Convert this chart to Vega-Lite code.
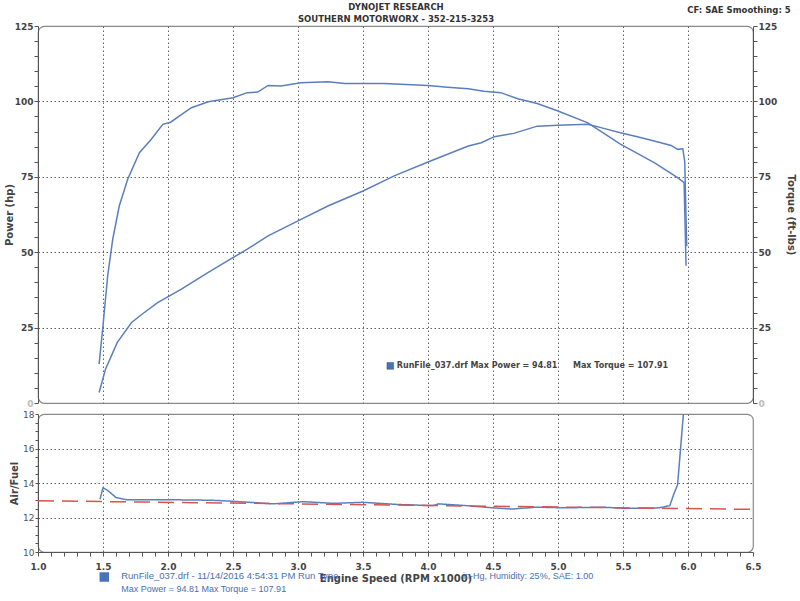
{
  "$schema": "https://vega.github.io/schema/vega-lite/v6.json",
  "padding": {"left": 3, "top": 2, "right": 3, "bottom": 5},
  "background": "white",
  "spacing": 11,
  "bounds": "flush",
  "config": {
    "view": {"stroke": "#8a8a8a", "strokeWidth": 1.2, "cornerRadius": 6},
    "font": "DejaVu Sans",
    "axis": {
      "labelFont": "DejaVu Sans", "titleFont": "DejaVu Sans",
      "labelFontWeight": "bold", "labelColor": "#444", "titleColor": "#444",
      "labelFontSize": 9, "titleFontSize": 10, "titleFontWeight": "bold",
      "domainColor": "#555", "tickColor": "#555", "gridColor": "#666", "gridDash": [1.5, 2.5],
      "labelOverlap": false, "labelFlush": false, "labelPadding": 1
    }
  },
  "datasets": {
    "power": [
      {"rpm": 1.47, "hp": 3.5}, {"rpm": 1.52, "hp": 11.3}, {"rpm": 1.61, "hp": 20.1}, {"rpm": 1.72, "hp": 26.7},
      {"rpm": 1.79, "hp": 29.1}, {"rpm": 1.92, "hp": 33.3}, {"rpm": 2.1, "hp": 37.7}, {"rpm": 2.31, "hp": 43.3},
      {"rpm": 2.48, "hp": 47.7}, {"rpm": 2.61, "hp": 51.0}, {"rpm": 2.77, "hp": 55.4}, {"rpm": 3.0, "hp": 60.4},
      {"rpm": 3.23, "hp": 65.3}, {"rpm": 3.5, "hp": 70.3}, {"rpm": 3.74, "hp": 75.3}, {"rpm": 4.0, "hp": 79.9},
      {"rpm": 4.15, "hp": 82.5}, {"rpm": 4.31, "hp": 85.2}, {"rpm": 4.41, "hp": 86.3}, {"rpm": 4.51, "hp": 88.3},
      {"rpm": 4.66, "hp": 89.4}, {"rpm": 4.84, "hp": 91.8}, {"rpm": 5.0, "hp": 92.1}, {"rpm": 5.23, "hp": 92.4},
      {"rpm": 5.33, "hp": 91.3}, {"rpm": 5.48, "hp": 89.6}, {"rpm": 5.61, "hp": 88.3}, {"rpm": 5.74, "hp": 86.9},
      {"rpm": 5.87, "hp": 85.4}, {"rpm": 5.92, "hp": 84.1}, {"rpm": 5.96, "hp": 84.3}, {"rpm": 5.975, "hp": 80.0},
      {"rpm": 5.99, "hp": 52.0}
    ],
    "torque": [
      {"rpm": 1.47, "tq": 12.9}, {"rpm": 1.5, "tq": 25.6}, {"rpm": 1.536, "tq": 42.2}, {"rpm": 1.575, "tq": 54.3},
      {"rpm": 1.625, "tq": 65.3}, {"rpm": 1.69, "tq": 74.2}, {"rpm": 1.78, "tq": 83.0}, {"rpm": 1.87, "tq": 87.4},
      {"rpm": 1.96, "tq": 92.4}, {"rpm": 2.02, "tq": 93.1}, {"rpm": 2.1, "tq": 95.5}, {"rpm": 2.18, "tq": 97.9},
      {"rpm": 2.31, "tq": 99.9}, {"rpm": 2.5, "tq": 101.2}, {"rpm": 2.61, "tq": 102.9}, {"rpm": 2.69, "tq": 103.1},
      {"rpm": 2.77, "tq": 105.3}, {"rpm": 2.87, "tq": 105.1}, {"rpm": 3.02, "tq": 106.2}, {"rpm": 3.18, "tq": 106.4},
      {"rpm": 3.23, "tq": 106.5}, {"rpm": 3.36, "tq": 105.9}, {"rpm": 3.66, "tq": 105.9}, {"rpm": 4.0, "tq": 105.3},
      {"rpm": 4.15, "tq": 104.7}, {"rpm": 4.31, "tq": 104.2}, {"rpm": 4.43, "tq": 103.4}, {"rpm": 4.56, "tq": 102.9},
      {"rpm": 4.69, "tq": 100.9}, {"rpm": 4.84, "tq": 99.3}, {"rpm": 5.0, "tq": 96.8}, {"rpm": 5.23, "tq": 92.9},
      {"rpm": 5.48, "tq": 85.8}, {"rpm": 5.74, "tq": 79.7}, {"rpm": 5.92, "tq": 74.7}, {"rpm": 5.97, "tq": 73.1},
      {"rpm": 5.985, "tq": 45.5}
    ],
    "afr": [
      {"series": "measured", "rpm": 1.477, "afr": 13.06}, {"series": "measured", "rpm": 1.5, "afr": 13.72},
      {"series": "measured", "rpm": 1.536, "afr": 13.57}, {"series": "measured", "rpm": 1.6, "afr": 13.16},
      {"series": "measured", "rpm": 1.68, "afr": 13.03}, {"series": "measured", "rpm": 2.01, "afr": 13.03},
      {"series": "measured", "rpm": 2.34, "afr": 13.0}, {"series": "measured", "rpm": 2.5, "afr": 12.94},
      {"series": "measured", "rpm": 2.81, "afr": 12.79}, {"series": "measured", "rpm": 3.04, "afr": 12.92},
      {"series": "measured", "rpm": 3.27, "afr": 12.82}, {"series": "measured", "rpm": 3.5, "afr": 12.88},
      {"series": "measured", "rpm": 3.78, "afr": 12.75}, {"series": "measured", "rpm": 4.04, "afr": 12.69},
      {"series": "measured", "rpm": 4.08, "afr": 12.79}, {"series": "measured", "rpm": 4.29, "afr": 12.69},
      {"series": "measured", "rpm": 4.5, "afr": 12.56}, {"series": "measured", "rpm": 4.65, "afr": 12.49},
      {"series": "measured", "rpm": 4.83, "afr": 12.6}, {"series": "measured", "rpm": 5.06, "afr": 12.56},
      {"series": "measured", "rpm": 5.34, "afr": 12.6}, {"series": "measured", "rpm": 5.52, "afr": 12.53},
      {"series": "measured", "rpm": 5.78, "afr": 12.56}, {"series": "measured", "rpm": 5.86, "afr": 12.69},
      {"series": "measured", "rpm": 5.89, "afr": 13.34}, {"series": "measured", "rpm": 5.92, "afr": 13.9},
      {"series": "measured", "rpm": 5.97, "afr": 18.5},
      {"series": "target", "rpm": 1.0, "afr": 12.97}, {"series": "target", "rpm": 6.5, "afr": 12.47}
    ]
  },
  "vconcat": [
    {
      "width": 715,
      "height": 377,
      "layer": [
        {
          "layer": [
            {
              "data": {"name": "power"},
              "mark": {"type": "line", "color": "#5b7fbd", "strokeWidth": 1.5},
              "encoding": {
                "x": {"field": "rpm", "type": "quantitative", "scale": {"domain": [1, 6.5], "nice": false, "zero": false},
                  "axis": {"values": [1.5, 2, 2.5, 3, 3.5, 4, 4.5, 5, 5.5, 6], "labels": false, "ticks": false, "domain": false, "title": null, "grid": true, "labelOverlap": false}},
                "y": {"field": "hp", "type": "quantitative", "scale": {"domain": [0, 125], "nice": false},
                  "axis": {"title": "Power (hp)", "titlePadding": 0, "labelOverlap": false,
                    "values": [0, 5, 10, 15, 20, 25, 30, 35, 40, 45, 50, 55, 60, 65, 70, 75, 80, 85, 90, 95, 100, 105, 110, 115, 120, 125],
                    "labelExpr": "datum.value % 25 === 0 ? datum.label : ''",
                    "labelColor": {"condition": {"test": "datum.value === 0", "value": "#bbb"}, "value": "#444"},
                    "tickSize": 4, "grid": true,
                    "gridOpacity": {"condition": {"test": "datum.value % 25 === 0 && datum.value > 0 && datum.value < 125", "value": 1}, "value": 0}}}
              }
            },
            {
              "data": {"name": "torque"},
              "mark": {"type": "line", "color": "#5b7fbd", "strokeWidth": 1.5},
              "encoding": {
                "x": {"field": "rpm", "type": "quantitative"},
                "y": {"field": "tq", "type": "quantitative", "scale": {"domain": [0, 125], "nice": false},
                  "axis": {"orient": "right", "title": "Torque (ft-lbs)", "titlePadding": 9, "labelOverlap": false,
                    "values": [0, 5, 10, 15, 20, 25, 30, 35, 40, 45, 50, 55, 60, 65, 70, 75, 80, 85, 90, 95, 100, 105, 110, 115, 120, 125],
                    "labelExpr": "datum.value % 25 === 0 ? datum.label : ''",
                    "labelColor": {"condition": {"test": "datum.value === 0", "value": "#bbb"}, "value": "#444"},
                    "tickSize": 4, "grid": false}}
              }
            }
          ],
          "resolve": {"scale": {"y": "independent"}}
        },
        {
          "layer": [
            {
              "data": {"values": [{}]},
              "mark": {"type": "text", "text": "DYNOJET RESEARCH", "fontWeight": "bold", "fontSize": 8.5, "color": "#333", "align": "center", "baseline": "middle"},
              "encoding": {"x": {"datum": 3.754, "scale": {"domain": [1, 6.5], "nice": false}, "axis": null}, "y": {"datum": 131.3, "scale": {"domain": [0, 125], "nice": false}, "axis": null}}
            },
            {
              "data": {"values": [{}]},
              "mark": {"type": "text", "text": "SOUTHERN MOTORWORX - 352-215-3253", "fontWeight": "bold", "fontSize": 8.5, "color": "#333", "align": "center", "baseline": "middle"},
              "encoding": {"x": {"datum": 3.754, "scale": {"domain": [1, 6.5], "nice": false}, "axis": null}, "y": {"datum": 127.3, "scale": {"domain": [0, 125], "nice": false}, "axis": null}}
            },
            {
              "data": {"values": [{}]},
              "mark": {"type": "text", "text": "CF: SAE  Smoothing: 5", "fontWeight": "bold", "fontSize": 8.5, "color": "#333", "align": "right", "baseline": "middle"},
              "encoding": {"x": {"datum": 6.79, "scale": {"domain": [1, 6.5], "nice": false}, "axis": null}, "y": {"datum": 130.3, "scale": {"domain": [0, 125], "nice": false}, "axis": null}}
            },
            {
              "data": {"values": [{}]},
              "mark": {"type": "square", "size": 45, "filled": true, "color": "#4a72b8", "stroke": "#2f4f80", "strokeWidth": 0.5, "opacity": 1},
              "encoding": {"x": {"datum": 3.71, "scale": {"domain": [1, 6.5], "nice": false}, "axis": null}, "y": {"datum": 12.3, "scale": {"domain": [0, 125], "nice": false}, "axis": null}}
            },
            {
              "data": {"values": [{}]},
              "mark": {"type": "text", "text": "RunFile_037.drf Max Power = 94.81", "fontWeight": "bold", "fontSize": 8, "color": "#444", "align": "left", "baseline": "middle"},
              "encoding": {"x": {"datum": 3.76, "scale": {"domain": [1, 6.5], "nice": false}, "axis": null}, "y": {"datum": 12.3, "scale": {"domain": [0, 125], "nice": false}, "axis": null}}
            },
            {
              "data": {"values": [{}]},
              "mark": {"type": "text", "text": "Max Torque = 107.91", "fontWeight": "bold", "fontSize": 8, "color": "#444", "align": "left", "baseline": "middle"},
              "encoding": {"x": {"datum": 5.115, "scale": {"domain": [1, 6.5], "nice": false}, "axis": null}, "y": {"datum": 12.3, "scale": {"domain": [0, 125], "nice": false}, "axis": null}}
            }
          ]
        }
      ],
      "resolve": {"scale": {"x": "independent", "y": "independent"}}
    },
    {
      "width": 715,
      "height": 138,
      "layer": [
        {
          "data": {"name": "afr"},
          "mark": {"type": "line", "strokeWidth": 1.5, "clip": true},
          "encoding": {
            "x": {"field": "rpm", "type": "quantitative", "scale": {"domain": [1, 6.5], "nice": false, "zero": false},
              "axis": {"title": "Engine Speed (RPM x1000)", "titlePadding": 2, "labelPadding": 6, "labelOverlap": false,
                "values": [1.0, 1.1, 1.2, 1.3, 1.4, 1.5, 1.6, 1.7, 1.8, 1.9, 2.0, 2.1, 2.2, 2.3, 2.4, 2.5, 2.6, 2.7, 2.8, 2.9, 3.0, 3.1, 3.2, 3.3, 3.4, 3.5, 3.6, 3.7, 3.8, 3.9, 4.0, 4.1, 4.2, 4.3, 4.4, 4.5, 4.6, 4.7, 4.8, 4.9, 5.0, 5.1, 5.2, 5.3, 5.4, 5.5, 5.6, 5.7, 5.8, 5.9, 6.0, 6.1, 6.2, 6.3, 6.4, 6.5],
                "labelExpr": "abs(datum.value * 2 - round(datum.value * 2)) < 0.001 ? format(datum.value, '.1f') : ''",
                "tickSize": 4, "grid": true,
                "gridOpacity": {"condition": {"test": "abs(datum.value * 2 - round(datum.value * 2)) < 0.001 && datum.value > 1.01 && datum.value < 6.49", "value": 1}, "value": 0}}},
            "y": {"field": "afr", "type": "quantitative", "scale": {"domain": [10, 18], "nice": false, "zero": false},
              "axis": {"title": "Air/Fuel", "titlePadding": 3, "labelFontWeight": "normal", "labelColor": "#555", "labelOverlap": false,
                "values": [10, 10.5, 11, 11.5, 12, 12.5, 13, 13.5, 14, 14.5, 15, 15.5, 16, 16.5, 17, 17.5, 18],
                "labelExpr": "datum.value % 2 === 0 ? format(datum.value, 'd') : ''",
                "tickSize": 3, "grid": true,
                "gridOpacity": {"condition": {"test": "datum.value % 2 === 0 && datum.value > 10 && datum.value < 18", "value": 1}, "value": 0}}},
            "color": {"field": "series", "type": "nominal", "scale": {"domain": ["measured", "target"], "range": ["#5b7fbd", "#d9534f"]}, "legend": null},
            "strokeDash": {"field": "series", "type": "nominal", "scale": {"domain": ["measured", "target"], "range": [[1, 0], [16, 8]]}, "legend": null}
          }
        },
        {
          "layer": [
            {
              "data": {"values": [{}]},
              "mark": {"type": "square", "size": 90, "filled": true, "color": "#4a72b8", "opacity": 1},
              "encoding": {"x": {"datum": 1.51, "scale": {"domain": [1, 6.5], "nice": false}, "axis": null}, "y": {"datum": 8.55, "scale": {"domain": [10, 18], "nice": false, "zero": false}, "axis": null}}
            },
            {
              "data": {"values": [{}]},
              "mark": {"type": "text", "text": "RunFile_037.drf - 11/14/2016 4:54:31 PM  Run Type", "font": "Liberation Sans", "fontSize": 9.5, "color": "#4a6fb0", "align": "left", "baseline": "middle"},
              "encoding": {"x": {"datum": 1.64, "scale": {"domain": [1, 6.5], "nice": false}, "axis": null}, "y": {"datum": 8.61, "scale": {"domain": [10, 18], "nice": false, "zero": false}, "axis": null}}
            },
            {
              "data": {"values": [{}]},
              "mark": {"type": "text", "text": "in-Hg,  Humidity:  25%, SAE: 1.00", "font": "Liberation Sans", "fontSize": 9, "color": "#4a6fb0", "align": "left", "baseline": "middle"},
              "encoding": {"x": {"datum": 4.27, "scale": {"domain": [1, 6.5], "nice": false}, "axis": null}, "y": {"datum": 8.61, "scale": {"domain": [10, 18], "nice": false, "zero": false}, "axis": null}}
            },
            {
              "data": {"values": [{}]},
              "mark": {"type": "text", "text": "Max Power = 94.81  Max Torque = 107.91", "font": "Liberation Sans", "fontSize": 9, "color": "#4a6fb0", "align": "left", "baseline": "middle"},
              "encoding": {"x": {"datum": 1.64, "scale": {"domain": [1, 6.5], "nice": false}, "axis": null}, "y": {"datum": 7.86, "scale": {"domain": [10, 18], "nice": false, "zero": false}, "axis": null}}
            }
          ]
        }
      ],
      "resolve": {"scale": {"x": "independent", "y": "independent", "color": "independent", "strokeDash": "independent"}}
    }
  ]
}
